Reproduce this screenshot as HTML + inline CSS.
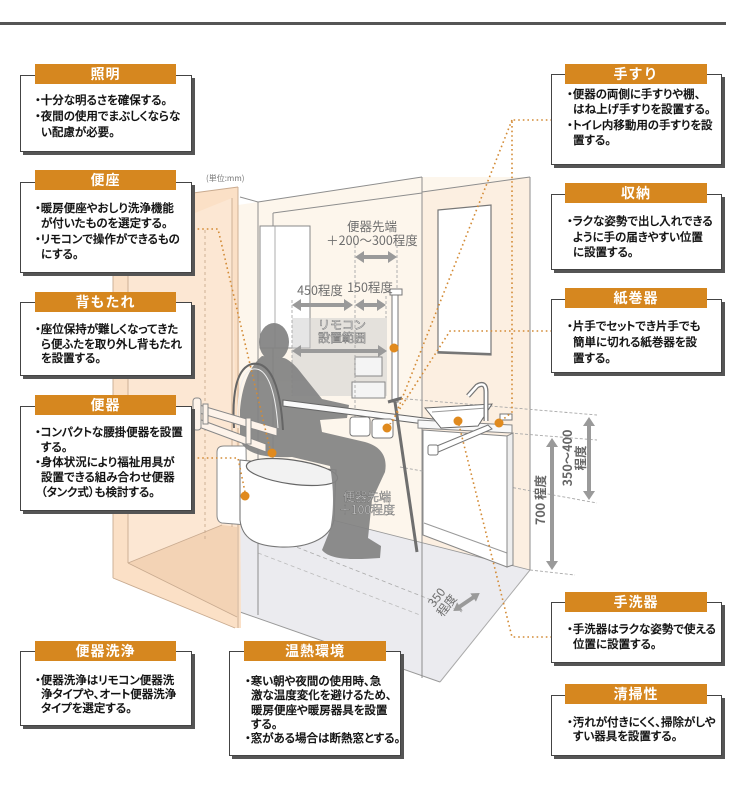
<!DOCTYPE html>
<html><head><meta charset="utf-8">
<style>
html,body{margin:0;padding:0;background:#fff;}
#wrap{position:relative;width:743px;height:785px;overflow:hidden;background:#fff;font-family:"Liberation Sans","Noto Sans CJK JP",sans-serif;}
.box{position:absolute;box-sizing:border-box;border:1px solid #444;background:#fff;box-shadow:3px 3px 0 #555;}
.hd{position:absolute;height:20px;line-height:20px;background:#d6871f;color:#fff;font-weight:bold;font-size:14px;text-align:center;font-family:"Noto Sans CJK JP",sans-serif;letter-spacing:1px;}
.t{position:absolute;font-family:"Noto Sans CJK JP",sans-serif;font-size:11.5px;font-weight:500;color:#111;-webkit-text-stroke:0.25px #111;white-space:nowrap;font-feature-settings:"palt";}
.t .c{padding-left:6px;}
svg text{font-family:"Noto Sans CJK JP",sans-serif;}
</style></head><body><div id="wrap">
<svg width="743" height="785" viewBox="0 0 743 785" style="position:absolute;left:0;top:0">
<rect x="0" y="22" width="726" height="3" fill="#555"/>
<!-- back wall -->
<polygon points="238,205 258,202 422,177 530,177 530,570 240,500" fill="#fdf6ec"/>
<!-- right wall -->
<polygon points="422,192 530,177 530,570 422,545" fill="#fcefe1"/>
<!-- floor -->
<polygon points="240,497 530,570 440,682 240,612" fill="#ebebef"/>
<line x1="530" y1="570" x2="440" y2="682" stroke="#aaa" stroke-width="1"/>
<line x1="240" y1="612" x2="440" y2="682" stroke="#999" stroke-width="1"/>
<line x1="273" y1="505" x2="530" y2="570" stroke="#999" stroke-width="0.8"/>
<line x1="258" y1="532" x2="462" y2="612" stroke="#aaa" stroke-width="0.8" stroke-dasharray="4 3"/>
<line x1="258" y1="553" x2="420" y2="615" stroke="#bbb" stroke-width="0.8" stroke-dasharray="4 3"/>
<!-- left wall -->
<polygon points="113,232 193,193 238,187 241,628 235,628 113,578" fill="#fbe0c6"/>
<polygon points="128,240 232,198 237,527 222,525 128,563" fill="#fce7d3"/>
<polygon points="128,563 222,525 237,527 237,617" fill="#f3d3b5"/>
<g stroke="#c9ab90" stroke-width="0.9" fill="none">
<line x1="113" y1="232" x2="113" y2="578"/>
<line x1="113" y1="578" x2="235" y2="628"/>
<line x1="128" y1="563" x2="237" y2="617"/>
<line x1="128" y1="563" x2="222" y2="525"/>
<line x1="128" y1="240" x2="128" y2="563"/>
<line x1="193" y1="193" x2="238" y2="187"/>
<line x1="238" y1="187" x2="238" y2="628"/>
<line x1="232" y1="198" x2="232" y2="527"/>
<line x1="205" y1="230" x2="205" y2="540" stroke-dasharray="3 3"/>
</g>
<!-- glass panel / walls lines -->
<g stroke="#8e8e8e" stroke-width="1" fill="none">
<line x1="258" y1="202" x2="422" y2="177"/>
<line x1="258" y1="202" x2="258" y2="615"/>
<line x1="422" y1="177" x2="422" y2="678"/>
<line x1="273" y1="213" x2="422" y2="193"/>
<line x1="273" y1="213" x2="273" y2="505"/>
<line x1="422" y1="192" x2="530" y2="177"/>
<line x1="530" y1="177" x2="530" y2="570"/>
<line x1="240" y1="197" x2="258" y2="202"/>
</g>
<!-- mirror -->
<polygon points="438,210 491,205 491,355 438,353" fill="#fff" stroke="#777" stroke-width="1.2"/>
<line x1="438" y1="352" x2="491" y2="354" stroke="#777" stroke-width="2"/>
<!-- cabinet -->
<rect x="260" y="226" width="50" height="122" fill="#fff" stroke="#888" stroke-width="1"/>
<line x1="275" y1="226" x2="275" y2="348" stroke="#999" stroke-width="0.8"/>
<!-- remote range -->
<rect x="292" y="318" width="95" height="78" fill="#cfcfcf" opacity="0.55"/>
<!-- remote -->
<rect x="355" y="357" width="27" height="19" fill="#f4f4f4" stroke="#888"/>
<rect x="352" y="382" width="33" height="16" fill="#f4f4f4" stroke="#888"/>
<!-- dimension dashed lines -->
<g stroke="#a8a8a8" stroke-width="0.9" stroke-dasharray="3 2" fill="none">
<line x1="355" y1="245" x2="355" y2="432"/>
<line x1="397" y1="245" x2="397" y2="290"/>
<line x1="292" y1="300" x2="292" y2="396"/>
<line x1="386" y1="296" x2="386" y2="318"/>
<line x1="395" y1="398" x2="597" y2="415"/>
<line x1="510" y1="433" x2="597" y2="440"/>
<line x1="400" y1="467" x2="597" y2="503"/>
<line x1="530" y1="570" x2="575" y2="575"/>
</g>
<!-- toilet tank -->
<path d="M217,452 Q217,446 224,446 L246,446 L247,525 L222,523 Q217,522 217,515 Z" fill="#fff" stroke="#888" stroke-width="1"/>
<!-- bowl -->
<path d="M240,460 L336,470 L334,520 C330,540 305,548 280,547 C255,546 242,538 240,520 Z" fill="#fff" stroke="#777" stroke-width="1.1"/>
<ellipse cx="292" cy="472" rx="46" ry="12" transform="rotate(8 292 472)" fill="#f2f2f2" stroke="#666" stroke-width="1.2"/>
<!-- person -->
<g fill="#838383" opacity="0.93">
<ellipse cx="274" cy="342" rx="15" ry="19"/>
<path d="M262,356 C250,366 242,385 240,410 L240,440 C246,455 266,458 292,457 L330,466 C334,488 334,512 330,530 L322,550 C330,560 352,560 380,558 L381,546 L368,538 L372,500 L385,472 C388,456 380,446 365,442 L322,432 L320,420 L347,418 L349,405 L322,399 L302,374 C296,366 290,360 284,358 Z"/>
</g>
<!-- backrest arch -->
<path d="M234,428 C232,395 236,368 252,364 C268,361 280,380 283,430" fill="none" stroke="#666" stroke-width="2"/>
<path d="M238,428 C237,398 240,372 253,369 C265,367 275,384 278,428" fill="none" stroke="#eee" stroke-width="1"/>
<!-- left fold-up rail -->
<g fill="#fdf3ea" stroke="#888" stroke-width="1">
<path d="M196,404 L277,428 L277,436 L196,412 Z"/>
<path d="M196,418 L266,444 L266,452 L196,426 Z"/>
<rect x="203" y="404" width="5" height="20"/>
<rect x="246" y="418" width="5" height="26"/>
<rect x="193" y="398" width="8" height="32" rx="3"/>
</g>
<!-- back rail -->
<path d="M283,400 L440,420 L440,426 L283,406 Z" fill="#fafafa" stroke="#666" stroke-width="1"/>
<!-- paper holders -->
<rect x="350" y="417" width="20" height="19" rx="3" fill="#fff" stroke="#777"/>
<rect x="372" y="419" width="21" height="19" rx="3" fill="#fff" stroke="#777"/>
<!-- grab bar -->
<rect x="392" y="292" width="6" height="110" fill="#fff" stroke="#777"/>
<rect x="390" y="289" width="12" height="6" fill="#fff" stroke="#777"/>
<!-- cane -->
<line x1="395" y1="402" x2="417" y2="552" stroke="#6f6f6f" stroke-width="3"/>
<line x1="388" y1="402" x2="402" y2="398" stroke="#6f6f6f" stroke-width="3"/>
<!-- vanity -->
<polygon points="423,430 507,436 507,567 423,535" fill="#fff" stroke="#888"/>
<line x1="424" y1="523" x2="507" y2="553" stroke="#999"/>
<polygon points="507,436 513,433 513,565 507,567" fill="#eee" stroke="#888"/>
<polygon points="418,420 512,425 512,433 418,428" fill="#f8f8f8" stroke="#888"/>
<polygon points="425,408 492,404 478,426 441,428" fill="#fff" stroke="#666"/>
<line x1="432" y1="412" x2="487" y2="408" stroke="#999"/>
<path d="M486,421 L486,392 Q486,381 477,386 L468,396" fill="none" stroke="#777" stroke-width="5"/>
<path d="M486,421 L486,392 Q486,381 477,386 L468,396" fill="none" stroke="#fff" stroke-width="2.5"/>
<rect x="500" y="414" width="12" height="6" fill="#fff" stroke="#777"/>
<path d="M432,448 L488,425 L492,429 L436,453 Z" fill="#fff" stroke="#777"/>
<rect x="428" y="445" width="10" height="10" rx="2" fill="#fff" stroke="#777"/>
<!-- arrows -->
<g fill="#9a9a9a">
<polygon points="355,257 364,251 364,255 388,255 388,251 397,257 388,263 388,259 364,259 364,263"/>
<polygon points="292,305 301,299 301,303 344,303 344,299 353,305 344,311 344,307 301,307 301,311"/>
<polygon points="355,305 364,299 364,303 377,303 377,299 386,305 377,311 377,307 364,307 364,311"/>
<polygon points="292,351 301,345 301,349 378,349 378,345 387,351 378,357 378,353 301,353 301,357"/>
<polygon points="552,438 546,447 550,447 550,561 546,561 552,570 558,561 554,561 554,447 558,447"/>
<polygon points="589,417 583,426 587,426 587,491 583,491 589,500 595,491 591,491 591,426 595,426"/>
<g transform="translate(466.5 602) rotate(-34)"><polygon points="-16,0 -8,-5 -8,-2 8,-2 8,-5 16,0 8,5 8,2 -8,2 -8,5"/></g>
</g>
<!-- labels -->
<g fill="#6e6e6e" font-size="12.5" text-anchor="middle">
<text x="372" y="231">便器先端</text>
<text x="372" y="245">＋200～300程度</text>
<text x="320" y="295">450程度</text>
<text x="370" y="292">150程度</text>
</g>
<g fill="#fafafa" stroke="#808080" stroke-width="0.6" font-size="12" text-anchor="middle">
<text x="342" y="329">リモコン</text>
<text x="342" y="342">設置範囲</text>
</g>
<g fill="#d4d4d4" stroke="#5e5e5e" stroke-width="0.35" font-size="12" text-anchor="middle">
<text x="367" y="501">便器先端</text>
<text x="367" y="514">＋100程度</text>
</g>
<g fill="#666" font-size="12.5" font-weight="bold" text-anchor="middle">
<text transform="translate(545 500) rotate(-90)">700 程度</text>
<text transform="translate(572 458) rotate(-90)">350～400</text>
<text transform="translate(585 458) rotate(-90)">程度</text>
</g>
<g fill="#6e6e6e" font-size="12" text-anchor="middle">
<text transform="translate(440 600) rotate(-52)">350</text>
<text transform="translate(450 608) rotate(-52)">程度</text>
</g>
<text x="206" y="181" font-size="8" fill="#777">(単位:mm)</text>
<!-- dotted leaders -->
<g fill="none" stroke="#d38b36" stroke-width="1.6" stroke-dasharray="1.6 3">
<path d="M193,229 H218 L270,449"/>
<path d="M193,458 H238 L245,492"/>
<path d="M552,120 H512 V412 L500,422"/>
<path d="M512,120 L392,424"/>
<path d="M552,331 H450 L390,424"/>
<path d="M552,637 H512 L459,425"/>
</g>
<!-- dots -->
<g fill="#e08a1e">
<circle cx="394" cy="348" r="4.5"/>
<circle cx="272" cy="453" r="4.5"/>
<circle cx="245" cy="496" r="4.5"/>
<circle cx="387" cy="428" r="4.5"/>
<circle cx="458" cy="421" r="4.5"/>
<circle cx="499" cy="423" r="4.5"/>
</g>
</svg>

<!-- 照明 -->
<div class="box" style="left:20px;top:75px;width:172px;height:77px"></div>
<div class="hd" style="left:35px;top:64px;width:141px">照明</div>
<div class="t" style="left:35px;top:92px;line-height:16px"><div>・十分な明るさを確保する。</div><div>・夜間の使用でまぶしくならな</div><div class="c">い配慮が必要。</div></div>

<!-- 便座 -->
<div class="box" style="left:20px;top:182px;width:172px;height:91px"></div>
<div class="hd" style="left:35px;top:170px;width:141px">便座</div>
<div class="t" style="left:35px;top:201px;line-height:15.3px"><div>・暖房便座やおしり洗浄機能</div><div class="c">が付いたものを選定する。</div><div>・リモコンで操作ができるもの</div><div class="c">にする。</div></div>

<!-- 背もたれ -->
<div class="box" style="left:20px;top:302px;width:172px;height:74px"></div>
<div class="hd" style="left:35px;top:292px;width:141px">背もたれ</div>
<div class="t" style="left:35px;top:322px;line-height:14.5px"><div>・座位保持が難しくなってきた</div><div class="c">ら便ふたを取り外し背もたれ</div><div class="c">を設置する。</div></div>

<!-- 便器 -->
<div class="box" style="left:20px;top:406px;width:172px;height:105px"></div>
<div class="hd" style="left:35px;top:395px;width:141px">便器</div>
<div class="t" style="left:35px;top:425px;line-height:15px"><div>・コンパクトな腰掛便器を設置</div><div class="c">する。</div><div>・身体状況により福祉用具が</div><div class="c">設置できる組み合わせ便器</div><div class="c">（タンク式）も検討する。</div></div>

<!-- 便器洗浄 -->
<div class="box" style="left:20px;top:651px;width:172px;height:75px"></div>
<div class="hd" style="left:35px;top:641px;width:141px">便器洗浄</div>
<div class="t" style="left:35px;top:674px;line-height:13.8px"><div>・便器洗浄はリモコン便器洗</div><div class="c">浄タイプや、オート便器洗浄</div><div class="c">タイプを選定する。</div></div>

<!-- 温熱環境 -->
<div class="box" style="left:229px;top:651px;width:172px;height:105px"></div>
<div class="hd" style="left:244px;top:641px;width:142px">温熱環境</div>
<div class="t" style="left:245px;top:674px;line-height:14.3px"><div>・寒い朝や夜間の使用時、急</div><div class="c">激な温度変化を避けるため、</div><div class="c">暖房便座や暖房器具を設置</div><div class="c">する。</div><div>・窓がある場合は断熱窓とする。</div></div>

<!-- 手すり -->
<div class="box" style="left:551px;top:74px;width:171px;height:91px"></div>
<div class="hd" style="left:565px;top:64px;width:142px">手すり</div>
<div class="t" style="left:567px;top:87px;line-height:15.3px"><div>・便器の両側に手すりや棚、</div><div class="c">はね上げ手すりを設置する。</div><div>・トイレ内移動用の手すりを設</div><div class="c">置する。</div></div>

<!-- 収納 -->
<div class="box" style="left:551px;top:194px;width:171px;height:76px"></div>
<div class="hd" style="left:565px;top:183px;width:142px">収納</div>
<div class="t" style="left:567px;top:214px;line-height:15.5px"><div>・ラクな姿勢で出し入れできる</div><div class="c">ように手の届きやすい位置</div><div class="c">に設置する。</div></div>

<!-- 紙巻器 -->
<div class="box" style="left:551px;top:299px;width:171px;height:74px"></div>
<div class="hd" style="left:565px;top:288px;width:142px">紙巻器</div>
<div class="t" style="left:567px;top:318px;line-height:16px"><div>・片手でセットでき片手でも</div><div class="c">簡単に切れる紙巻器を設</div><div class="c">置する。</div></div>

<!-- 手洗器 -->
<div class="box" style="left:551px;top:602px;width:171px;height:61px"></div>
<div class="hd" style="left:565px;top:592px;width:142px">手洗器</div>
<div class="t" style="left:567px;top:622px;line-height:14.5px"><div>・手洗器はラクな姿勢で使える</div><div class="c">位置に設置する。</div></div>

<!-- 清掃性 -->
<div class="box" style="left:551px;top:695px;width:171px;height:61px"></div>
<div class="hd" style="left:565px;top:684px;width:142px">清掃性</div>
<div class="t" style="left:567px;top:715px;line-height:14px"><div>・汚れが付きにくく、掃除がしや</div><div class="c">すい器具を設置する。</div></div>
</div></body></html>
